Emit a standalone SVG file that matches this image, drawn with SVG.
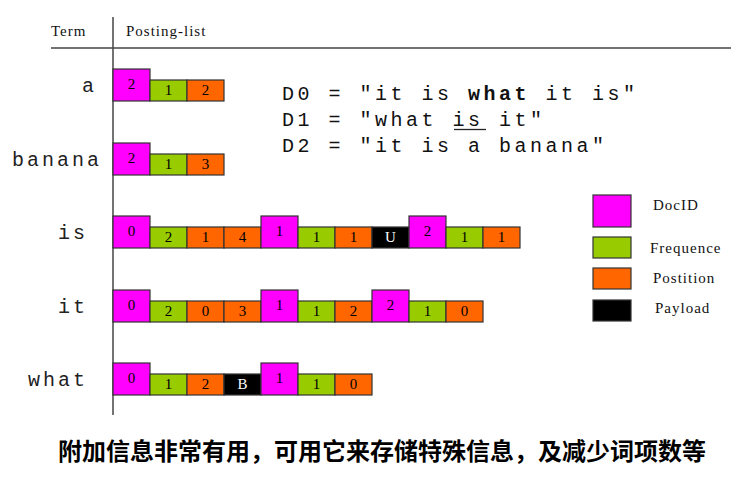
<svg xmlns="http://www.w3.org/2000/svg" width="754" height="482" viewBox="0 0 754 482">
<style>
.m{fill:#ff00ff;stroke:#333;stroke-width:1.2}
.g{fill:#99cc00;stroke:#333;stroke-width:1.2}
.o{fill:#ff6600;stroke:#333;stroke-width:1.2}
.k{fill:#000;stroke:#333;stroke-width:1.2}
.n{font-family:"Liberation Serif",serif;font-size:15px;text-anchor:middle;fill:#000}
.w{fill:#fff}
.term{font-family:"Liberation Mono",monospace;font-size:20px;letter-spacing:3px;fill:#222}
.doc{font-family:"Liberation Mono",monospace;font-size:20px;letter-spacing:3.5px;fill:#111}
.hd{font-family:"Liberation Serif",serif;font-size:15px;letter-spacing:1px;fill:#111}
.ln{stroke:#444;stroke-width:1.5;fill:none}
.cn{font-family:"Liberation Sans","Noto Sans CJK SC",sans-serif;font-size:24px;font-weight:bold;text-anchor:middle;fill:#000}
</style>
<rect width="754" height="482" fill="#fff"/>
<g id="connectors">
<line class="ln" x1="51" y1="48" x2="731" y2="48"/>
<line class="ln" x1="113" y1="17" x2="113" y2="415"/>
</g>
<g id="header">
<text class="hd" x="51" y="36">Term</text>
<text class="hd" x="126" y="36">Posting-list</text>
</g>
<g id="row-a">
<text class="term" x="82" y="92">a</text>
<rect class="m" x="113" y="69" width="37" height="32"/><text class="n" x="131.5" y="89">2</text>
<rect class="g" x="150" y="80" width="37" height="21"/><text class="n" x="168.5" y="95">1</text>
<rect class="o" x="187" y="80" width="37" height="21"/><text class="n" x="205.5" y="95">2</text>
</g>
<g id="row-banana">
<text class="term" x="12" y="166">banana</text>
<rect class="m" x="113" y="143" width="37" height="32"/><text class="n" x="131.5" y="163">2</text>
<rect class="g" x="150" y="154" width="37" height="21"/><text class="n" x="168.5" y="169">1</text>
<rect class="o" x="187" y="154" width="37" height="21"/><text class="n" x="205.5" y="169">3</text>
</g>
<g id="row-is">
<text class="term" x="58" y="239">is</text>
<rect class="m" x="113" y="216" width="37" height="32"/><text class="n" x="131.5" y="236">0</text>
<rect class="g" x="150" y="227" width="37" height="21"/><text class="n" x="168.5" y="242">2</text>
<rect class="o" x="187" y="227" width="37" height="21"/><text class="n" x="205.5" y="242">1</text>
<rect class="o" x="224" y="227" width="37" height="21"/><text class="n" x="242.5" y="242">4</text>
<rect class="m" x="261" y="216" width="37" height="32"/><text class="n" x="279.5" y="236">1</text>
<rect class="g" x="298" y="227" width="37" height="21"/><text class="n" x="316.5" y="242">1</text>
<rect class="o" x="335" y="227" width="37" height="21"/><text class="n" x="353.5" y="242">1</text>
<rect class="k" x="372" y="227" width="37" height="21"/><text class="n w" x="390.5" y="242">U</text>
<rect class="m" x="409" y="216" width="37" height="32"/><text class="n" x="427.5" y="236">2</text>
<rect class="g" x="446" y="227" width="37" height="21"/><text class="n" x="464.5" y="242">1</text>
<rect class="o" x="483" y="227" width="37" height="21"/><text class="n" x="501.5" y="242">1</text>
</g>
<g id="row-it">
<text class="term" x="58" y="313">it</text>
<rect class="m" x="113" y="290" width="37" height="32"/><text class="n" x="131.5" y="310">0</text>
<rect class="g" x="150" y="301" width="37" height="21"/><text class="n" x="168.5" y="316">2</text>
<rect class="o" x="187" y="301" width="37" height="21"/><text class="n" x="205.5" y="316">0</text>
<rect class="o" x="224" y="301" width="37" height="21"/><text class="n" x="242.5" y="316">3</text>
<rect class="m" x="261" y="290" width="37" height="32"/><text class="n" x="279.5" y="310">1</text>
<rect class="g" x="298" y="301" width="37" height="21"/><text class="n" x="316.5" y="316">1</text>
<rect class="o" x="335" y="301" width="37" height="21"/><text class="n" x="353.5" y="316">2</text>
<rect class="m" x="372" y="290" width="37" height="32"/><text class="n" x="390.5" y="310">2</text>
<rect class="g" x="409" y="301" width="37" height="21"/><text class="n" x="427.5" y="316">1</text>
<rect class="o" x="446" y="301" width="37" height="21"/><text class="n" x="464.5" y="316">0</text>
</g>
<g id="row-what">
<text class="term" x="28" y="386">what</text>
<rect class="m" x="113" y="363" width="37" height="32"/><text class="n" x="131.5" y="383">0</text>
<rect class="g" x="150" y="374" width="37" height="21"/><text class="n" x="168.5" y="389">1</text>
<rect class="o" x="187" y="374" width="37" height="21"/><text class="n" x="205.5" y="389">2</text>
<rect class="k" x="224" y="374" width="37" height="21"/><text class="n w" x="242.5" y="389">B</text>
<rect class="m" x="261" y="363" width="37" height="32"/><text class="n" x="279.5" y="383">1</text>
<rect class="g" x="298" y="374" width="37" height="21"/><text class="n" x="316.5" y="389">1</text>
<rect class="o" x="335" y="374" width="37" height="21"/><text class="n" x="353.5" y="389">0</text>
</g>
<g id="documents">
<text class="doc" x="282" y="100">D0 = "it is <tspan font-weight="bold">what</tspan> it is"</text>
<text class="doc" x="282" y="126">D1 = "what is it"</text>
<line x1="454" y1="129.5" x2="486" y2="129.5" stroke="#222" stroke-width="1.3"/>
<text class="doc" x="282" y="152">D2 = "it is a banana"</text>
</g>
<g id="legend">
<rect class="m" x="593" y="195" width="38" height="32"/><text class="hd" x="653" y="210">DocID</text>
<rect class="g" x="593" y="237" width="38" height="21"/><text class="hd" x="650" y="253">Frequence</text>
<rect class="o" x="593" y="268" width="38" height="21"/><text class="hd" x="653" y="283">Postition</text>
<rect class="k" x="593" y="300" width="38" height="21"/><text class="hd" x="655" y="313">Payload</text>
</g>
<g id="caption">
<text class="cn" x="382" y="460">附加信息非常有用，可用它来存储特殊信息，及减少词项数等</text>
</g>
</svg>
